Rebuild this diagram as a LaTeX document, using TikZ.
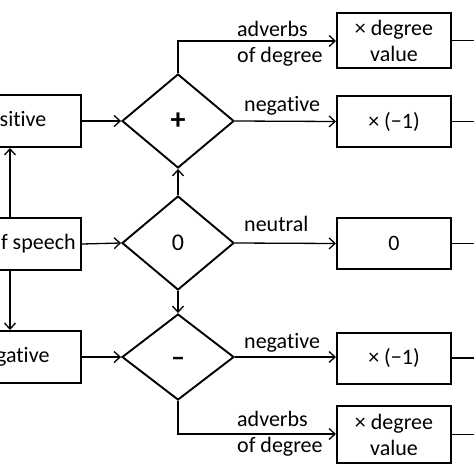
\documentclass[tikz,border=0pt]{standalone}
\usepackage{fontspec}
\setmainfont{Carlito}[Ligatures=NoCommon]
\usetikzlibrary{shapes.geometric,arrows.meta}
\tikzset{
  box/.style={draw, line width=2pt, rectangle, inner sep=0pt, align=center, font=\fontsize{22}{26}\selectfont},
  dia/.style={draw, line width=1.9pt, diamond, inner sep=0pt, minimum width=112pt, font=\fontsize{24}{26}\selectfont},
  conn/.style={line width=1.3pt, -{Straight Barb[length=6pt,width=11pt,line width=1.3pt]}},
  plain/.style={line width=1.3pt},
  lab/.style={font=\fontsize{22}{26}\selectfont, inner sep=0pt, anchor=base west},
}
\begin{document}
\begin{tikzpicture}[x=1pt,y=-1pt]
\useasboundingbox (0,0) rectangle (474,474);
\clip (0,0) rectangle (474,474);
% left boxes
\node[box, minimum width=139pt, minimum height=52pt] (pos) at (11.5,121) {positive};
\node[box, minimum width=139pt, minimum height=52pt] (part) at (11.5,244) {part of speech};
\node[box, minimum width=139pt, minimum height=52pt] (neg) at (11.5,357) {negative};
% diamonds
\node[dia, minimum height=94pt] (dp) at (178,121) {\fontsize{30}{30}\selectfont\textbf{+}};
\node[dia, minimum height=94pt] (dz) at (178,243) {0};
\node[dia, minimum height=86pt] (dm) at (178,357) {\fontsize{28}{28}\selectfont\smash{\raisebox{-9pt}{\textbf{–}}}};
% right boxes
\node[box, minimum width=114pt, minimum height=55pt] (b1) at (394,40.5) {× degree\\value};
\node[box, minimum width=114pt, minimum height=51pt] (b2) at (394,121.5) {× (−1)};
\node[box, minimum width=114pt, minimum height=51pt] (b3) at (394,243.5) {0};
\node[box, minimum width=114pt, minimum height=51pt] (b4) at (394,358) {× (−1)};
\node[box, minimum width=114pt, minimum height=57pt] (b5) at (394,434.5) {× degree\\value};
% left vertical arrows
\draw[conn] (part.north -| 10,0) -- (pos.south -| 10,0);
\draw[conn] (part.south -| 10,0) -- (neg.north -| 10,0);
% left to diamonds
\draw[conn] (pos.east) -- (dp.west);
\draw[conn] (part.east) -- (dz.west);
\draw[conn] (neg.east) -- (dm.west);
% between diamonds
\draw[conn] (dz.north) -- (dp.south);
\draw[conn] (dz.south) -- (dm.north);
% diamonds to right boxes
\coordinate (t1) at (178,41);
\coordinate (t5) at (178,434);
\draw[conn] (dp.north) -- (t1) -- (b1.west |- t1);
\draw[conn] (dp.east) -- (b2.west);
\draw[conn] (dz.east) -- (b3.west);
\draw[conn] (dm.east) -- (b4.west |- dm.east);
\draw[conn] (dm.south) -- (t5) -- (b5.west |- t5);
% labels
\node[lab] (l1a) at (237,36) {adverbs};
\node[lab] (l1b) at (237,62) {of degree};
\node[lab] (l2) at (244,111) {negative};
\node[lab] (l3) at (244,231) {neutral};
\node[lab] (l4) at (244,348) {negative};
\node[lab] (l5a) at (237,426) {adverbs};
\node[lab] (l5b) at (237,452) {of degree};
% right outgoing lines
\coordinate (r1) at (480,40.5);
\coordinate (r2) at (480,121.5);
\coordinate (r3) at (480,243.5);
\coordinate (r4) at (480,358);
\coordinate (r5) at (480,434.5);
\draw[plain] (b1.east) -- (r1);
\draw[plain] (b2.east) -- (r2);
\draw[plain] (b3.east) -- (r3);
\draw[plain] (b4.east) -- (r4);
\draw[plain] (b5.east) -- (r5);
\end{tikzpicture}
\end{document}
